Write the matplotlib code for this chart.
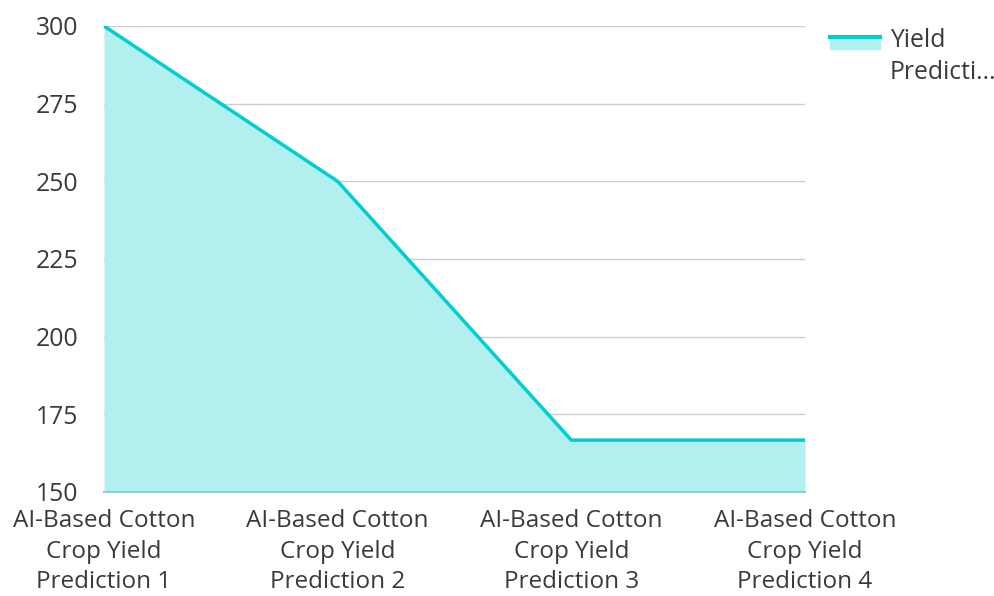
import matplotlib.pyplot as plt
from matplotlib.patches import Rectangle
from matplotlib.lines import Line2D

plt.rcParams['font.family'] = ['Open Sans', 'DejaVu Sans']

categories = ['AI-Based Cotton\nCrop Yield\nPrediction 1',
              'AI-Based Cotton\nCrop Yield\nPrediction 2',
              'AI-Based Cotton\nCrop Yield\nPrediction 3',
              'AI-Based Cotton\nCrop Yield\nPrediction 4']
yield_pred = [300, 250, 166.7, 166.7]
y_ticks = [150, 175, 200, 225, 250, 275, 300]

line_col = '#00CED1'
fill_col = '#B2EFEF'
text_col = '#3a3a3a'

W, H = 995, 596
fig = plt.figure(figsize=(W / 100, H / 100), dpi=100)
ax = fig.add_axes([104/W, 1 - 492/H, (805-104)/W, (492-26)/H])

x = list(range(len(categories)))
ax.fill_between(x, yield_pred, 150, color=fill_col, linewidth=0, zorder=2)
ax.plot(x, yield_pred, color=line_col, linewidth=2.5, zorder=3)

ax.set_xlim(0, len(categories) - 1)
ax.set_ylim(150, 300)
ax.set_yticks(y_ticks)
ax.set_xticks(x)
ax.set_xticklabels(categories, fontsize=17.5, color=text_col, linespacing=1.38)
ax.tick_params(axis='y', labelsize=17.8, labelcolor=text_col, length=0, pad=18.5)
ax.tick_params(axis='x', length=0, pad=12)
ax.grid(axis='y', color='#CCCCCC', linewidth=1, zorder=1)
for s in ['left', 'right', 'top']:
    ax.spines[s].set_visible(False)
ax.spines['bottom'].set_color('#8FCFCF')
ax.spines['bottom'].set_linewidth(1.5)
ax.spines['bottom'].set_zorder(4)

# legend drawn by hand
fig.patches.append(Rectangle((830/W, 1 - 49/H), 50/W, 12/H,
                             transform=fig.transFigure, color=fill_col))
fig.lines.append(Line2D([830/W, 880/W], [1 - 37/H, 1 - 37/H],
                        transform=fig.transFigure, color=line_col, linewidth=3))
fig.text(890/W, 1 - 47/H, 'Yield', fontsize=17.8, color=text_col,
         va='baseline', ha='left')
fig.text(890/W, 1 - 79/H, 'Predicti...', fontsize=17.8, color=text_col,
         va='baseline', ha='left')

fig.savefig('out.png', dpi=100)
